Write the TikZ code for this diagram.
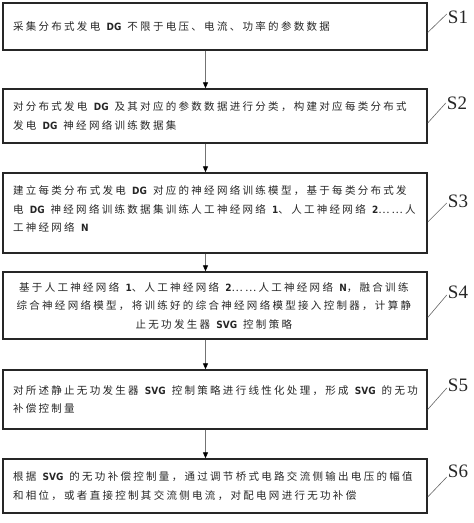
\documentclass[tikz,border=0pt]{standalone}
\usepackage{fontspec}
\usetikzlibrary{arrows.meta}
\setmainfont{Liberation Serif}
\newfontfamily\cjk{Noto Sans CJK SC}
\newfontfamily\latf[Scale=0.95]{DejaVu Sans Condensed}
\newcommand\cj[1]{\cjA#1\relax}
\def\cjA#1{\ifx\relax#1\else#1\kern2.3pt\relax\expandafter\cjA\fi}
\newcommand\lat[1]{\nobreak\hskip4pt{\latf\bfseries #1}\nobreak}
\newcommand\latb[1]{\nobreak\hskip4pt{\latf\bfseries #1}\nobreak\hskip6pt\nobreak}
\tikzset{
  stepbox/.style={draw=black!85, line width=1.4pt, rectangle, inner xsep=10pt, inner ysep=0pt,
    text width=404pt, align=flush left, minimum width=424pt,
    font=\cjk\fontsize{10.5}{18.5}\selectfont, text=black!85},
  flowarrow/.style={draw=black!55, line width=0.8pt, -{Triangle[length=6pt,width=5pt,color=black]}},
  steplabel/.style={font=\fontsize{19}{19}\selectfont, inner sep=1pt, text=black!85},
  leader/.style={draw=black!60, line width=0.6pt}
}
\begin{document}
\begin{tikzpicture}[x=1pt,y=-1pt]
\useasboundingbox (0,0) rectangle (474,523);
\node[stepbox, minimum height=47pt] (b1) at (215,26.5) {\cj{采集分布式发电}\latb{DG}\cj{不限于电压、电流、功率的参数数据}};
\node[stepbox, minimum height=54pt] (b2) at (215,116) {\cj{对分布式发电}\latb{DG}\cj{及其对应的参数数据进行分类，构建对应每类分布式}\\\cj{发电}\latb{DG}\cj{神经网络训练数据集}};
\node[stepbox, minimum height=80pt] (b3) at (215,213) {\cj{建立每类分布式发电}\latb{DG}\cj{对应的神经网络训练模型，基于每类分布式发}\\\cj{电}\latb{DG}\cj{神经网络训练数据集训练人工神经网络}\lat{1}\cj{、人工神经网络}\lat{2}\cj{……人}\\\cj{工神经网络}\lat{N}\par\vspace{8pt}};
\node[stepbox, minimum height=67pt, align=flush center] (b4) at (215,305.5) {\cj{基于人工神经网络}\lat{1}\cj{、人工神经网络}\lat{2}\cj{……人工神经网络}\lat{N}\cj{，融合训练}\\\cj{综合神经网络模型，将训练好的综合神经网络模型接入控制器，计算静}\\\cj{止无功发生器}\latb{SVG}\cj{控制策略}};
\node[stepbox, minimum height=59pt] (b5) at (215,399.5) {\cj{对所述静止无功发生器}\latb{SVG}\cj{控制策略进行线性化处理，形成}\latb{SVG}\cj{的无功}\\\cj{补偿控制量}};
\node[stepbox, minimum height=54pt] (b6) at (215,486) {\cj{根据}\latb{SVG}\cj{的无功补偿控制量，通过调节桥式电路交流侧输出电压的幅值}\\\cj{和相位，或者直接控制其交流侧电流，对配电网进行无功补偿}};
\foreach \a/\b in {b1/b2,b2/b3,b3/b4,b4/b5,b5/b6}
  \draw[flowarrow] ([xshift=-9.5pt]\a.south) -- ([xshift=-9.5pt]\b.north);
\node[steplabel] (s1) at (458,17) {S1};
\node[steplabel] (s2) at (457,103) {S2};
\node[steplabel] (s3) at (458,201) {S3};
\node[steplabel] (s4) at (458,292) {S4};
\node[steplabel] (s5) at (458,385) {S5};
\node[steplabel] (s6) at (458,471) {S6};
\draw[leader] ([yshift=-6pt]b1.east) -- ([yshift=3pt]s1.west);
\draw[leader] ([yshift=-7pt]b2.east) -- ([yshift=0pt]s2.west);
\draw[leader] ([yshift=-9pt]b3.east) -- ([yshift=-2pt]s3.west);
\draw[leader] ([yshift=-12pt]b4.east) -- ([yshift=-3pt]s4.west);
\draw[leader] ([yshift=-10pt]b5.east) -- ([yshift=-3pt]s5.west);
\draw[leader] ([yshift=-11pt]b6.east) -- ([yshift=-6pt]s6.west);
\end{tikzpicture}
\end{document}
